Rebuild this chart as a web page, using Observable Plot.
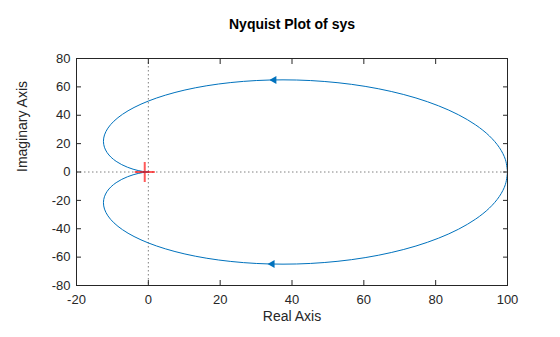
<!DOCTYPE html>
<html>
<head>
<meta charset="utf-8">
<script src="https://cdn.jsdelivr.net/npm/d3@7"></script>
<script src="https://cdn.jsdelivr.net/npm/@observablehq/plot@0.6"></script>
<style>
  html, body { margin: 0; padding: 0; background: #fff; }
  svg { font-family: "Liberation Sans", Arial, Helvetica, sans-serif; }
</style>
</head>
<body>
<div id="chart"></div>
<script>
// Positive-frequency branch (lower half)
const realPos = [100, 99.43, 97.73, 94.95, 91.14, 86.39, 80.80, 74.51, 67.64, 60.36, 52.80, 45.13, 37.5, 30.06, 22.95, 16.29, 10.19, 4.74, 0, -3.98, -7.18, -9.59, -11.25, -12.20, -12.5, -12.23, -11.48, -10.36, -8.96, -7.41, -5.80, -4.25, -2.83, -1.65, -0.75, -0.19, 0];
const imagPos = [0, -8.70, -17.23, -25.44, -33.17, -40.28, -46.65, -52.17, -56.76, -60.36, -62.92, -64.45, -64.95, -64.47, -63.05, -60.80, -57.79, -54.15, -50, -45.47, -40.69, -35.80, -30.92, -26.16, -21.65, -17.47, -13.68, -10.36, -7.52, -5.19, -3.35, -1.98, -1.03, -0.44, -0.13, -0.02, 0];
// Negative-frequency branch (upper half)
const realNeg = realPos;
const imagNeg = [0, 8.70, 17.23, 25.44, 33.17, 40.28, 46.65, 52.17, 56.76, 60.36, 62.92, 64.45, 64.95, 64.47, 63.05, 60.80, 57.79, 54.15, 50, 45.47, 40.69, 35.80, 30.92, 26.16, 21.65, 17.47, 13.68, 10.36, 7.52, 5.19, 3.35, 1.98, 1.03, 0.44, 0.13, 0.02, 0];
// Direction arrows
const arrows = [{re: 35, im: 64.9}, {re: 34.5, im: -64.9}];
const criticalPoint = [{re: -1, im: 0}];
const xTicks = [-20, 0, 20, 40, 60, 80, 100];
const yTicks = [-80, -60, -40, -20, 0, 20, 40, 60, 80];

const lower = realPos.map((r, i) => ({re: r, im: imagPos[i]}));
const upper = realNeg.map((r, i) => ({re: r, im: imagNeg[i]}));

const blue = "#0072BD";
const fmt = d => String(d);
const chart = Plot.plot({
  width: 560,
  height: 337,
  marginLeft: 76,
  marginRight: 53,
  marginTop: 58,
  marginBottom: 52,
  style: {fontFamily: '"Liberation Sans", Arial, Helvetica, sans-serif', fontSize: "12.5px", color: "#262626", background: "#fff"},
  x: {domain: [-20, 100]},
  y: {domain: [-80, 80]},
  marks: [
    Plot.ruleX([0], {stroke: "#808080", strokeWidth: 1, strokeDasharray: "1.5,2.5"}),
    Plot.ruleY([0], {stroke: "#808080", strokeWidth: 1, strokeDasharray: "1.5,2.5"}),
    Plot.line(upper, {x: "re", y: "im", stroke: blue, strokeWidth: 1, curve: "catmull-rom"}),
    Plot.line(lower, {x: "re", y: "im", stroke: blue, strokeWidth: 1, curve: "catmull-rom"}),
    Plot.dot(arrows, {x: "re", y: "im", symbol: "triangle", rotate: -90, r: 3, fill: blue, stroke: "none"}),
    Plot.dot(criticalPoint, {x: "re", y: "im", symbol: "plus", r: 6.5, stroke: "#ff0000", strokeOpacity: 0.65, strokeWidth: 2, fill: "none"}),
    Plot.frame({stroke: "#262626", strokeWidth: 1}),
    Plot.axisX(xTicks, {anchor: "bottom", tickSize: -5, tickPadding: 14, tickFormat: fmt, label: null, fontSize: 13, stroke: "#262626", fill: "#262626"}),
    Plot.axisX(xTicks, {anchor: "top", tickSize: -5, tickFormat: () => "", label: null, stroke: "#262626"}),
    Plot.axisY(yTicks, {anchor: "left", tickSize: -5, tickPadding: 11, tickFormat: fmt, label: null, fontSize: 13, stroke: "#262626", fill: "#262626"}),
    Plot.axisY(yTicks, {anchor: "right", tickSize: -5, tickFormat: () => "", label: null, stroke: "#262626"}),
    Plot.text(["Nyquist Plot of sys"], {frameAnchor: "top", dy: -39, fontSize: 14, fontWeight: "bold", fill: "#000"}),
    Plot.text(["Real Axis"], {frameAnchor: "bottom", dy: 35, fontSize: 14, fill: "#262626"}),
    Plot.text(["Imaginary Axis"], {frameAnchor: "left", dx: -54, rotate: -90, fontSize: 14, fill: "#262626"})
  ]
});
document.getElementById("chart").appendChild(chart);
</script>
</body>
</html>
